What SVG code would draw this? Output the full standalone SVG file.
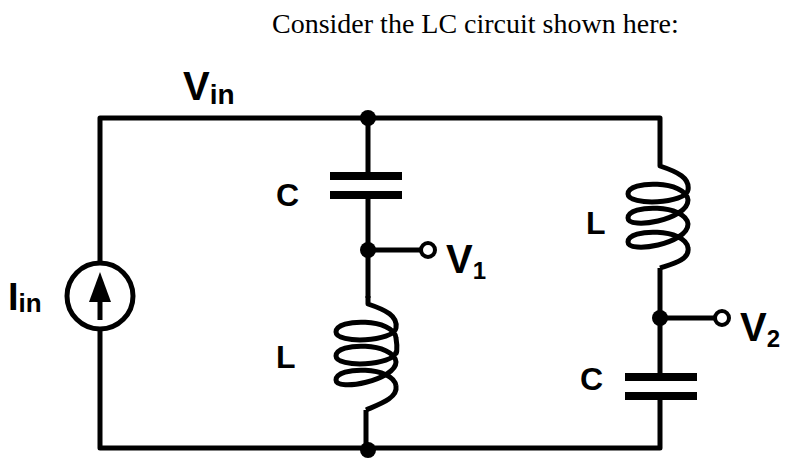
<svg xmlns="http://www.w3.org/2000/svg" width="800" height="474" viewBox="0 0 800 474">
<defs><style>
.w{fill:none;stroke:#000;stroke-width:5;stroke-linejoin:round}
.p{stroke:#000;stroke-width:8}
.d{fill:#000}
.o{fill:#fff;stroke:#000;stroke-width:4}
.t{font-family:"Liberation Sans",Arial,sans-serif;font-weight:bold;fill:#000}
</style></defs>
<rect width="800" height="474" fill="#fff"/>
<text x="272" y="33" font-family="Liberation Serif,serif" font-size="28">Consider the LC circuit shown here:</text>
<g id="wires" class="w">
<path d="M100,262 V118 H660 V158"/>
<path d="M100,330 V448 H660 V396"/>
<path d="M660,376 V318 H716"/>
<path d="M368,118 V176 M368,195 V250 H422"/>
<path d="M368,250 V298 M366,410 V448"/>
<path d="M660,268 V318"/>
</g>
<g id="source">
<circle cx="100" cy="296" r="33" class="w"/>
<path d="M100,320 V300" class="w"/>
<polygon points="100,272 89,302 111,302" class="d"/>
<text x="8" y="310" class="t" font-size="38">I<tspan font-size="26" dy="2">in</tspan></text>
</g>
<g id="C1"><line x1="330" y1="176" x2="402" y2="176" class="p"/><line x1="330" y1="195" x2="402" y2="195" class="p"/><text x="276" y="206" class="t" font-size="32">C</text></g>
<g id="L1">
<path class="w" d="M368,296 L368,304 C386,310 398,316 396,328 C394,342 336,344 336,332 C336,318 394,318 396,338 C398,350 396,356 396,352 C394,366 336,368 336,356 C336,342 394,342 396,362 C396,380 336,392 336,380 C336,366 394,366 396,386 C398,398 380,404 366,410"/>
<text x="276" y="368" class="t" font-size="32">L</text>
</g>
<g id="L2">
<path class="w" d="M660,158 L660,166 C678,172 690,178 688,190 C686,204 628,206 628,194 C628,180 686,180 688,200 C688,220 628,230 628,218 C628,204 686,204 688,224 C688,244 628,254 628,242 C628,228 686,228 688,248 C690,260 672,264 660,268"/>
<text x="586" y="234" class="t" font-size="32">L</text>
</g>
<g id="C2"><line x1="625" y1="377" x2="697" y2="377" class="p"/><line x1="625" y1="396" x2="697" y2="396" class="p"/><text x="580" y="390" class="t" font-size="32">C</text></g>
<g id="nodes">
<circle cx="368" cy="118" r="8" class="d"/><circle cx="368" cy="250" r="8" class="d"/><circle cx="368" cy="450" r="8" class="d"/><circle cx="660" cy="318" r="8" class="d"/>
<circle cx="428" cy="250" r="7" class="o"/><circle cx="722" cy="318" r="7" class="o"/>
</g>
<text x="446" y="273" class="t" font-size="40">V<tspan font-size="24" dy="6">1</tspan></text>
<text x="740" y="341" class="t" font-size="40">V<tspan font-size="24" dy="6">2</tspan></text>
<text x="183" y="100" class="t" font-size="40">V<tspan font-size="28" dy="4">in</tspan></text>
</svg>
